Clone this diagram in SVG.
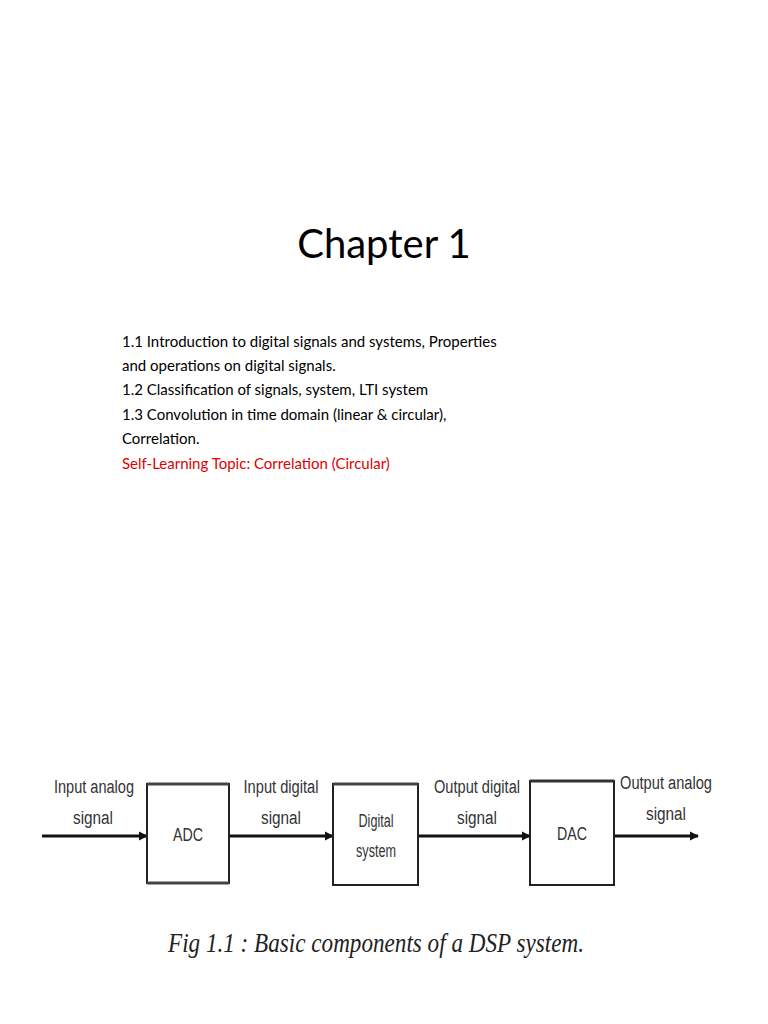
<svg xmlns="http://www.w3.org/2000/svg" width="768" height="1024" viewBox="0 0 768 1024">
<defs>
<style>
.t{font-family:Lato,"Liberation Sans",sans-serif;font-size:15px;fill:#000}
.l{font-family:"Liberation Sans",Arial,sans-serif;font-size:18px;fill:#333}
.box{fill:#fff;stroke:#222;stroke-width:2}
.c{stroke:#111;stroke-width:3;fill:none;marker-end:url(#a)}
</style>
<marker id="a" viewBox="0 0 10 10" refX="9" refY="5" markerWidth="3" markerHeight="3.5" orient="auto"><path d="M0,0 L10,5 L0,10 z" fill="#111"/></marker>
</defs>
<rect width="768" height="1024" fill="#fff"/>
<text x="384" y="258" text-anchor="middle" font-family="Lato,'Liberation Sans',sans-serif" font-size="40">Chapter 1</text>
<text class="t" x="122" y="347">1.1 Introduction to digital signals and systems, Properties</text>
<text class="t" x="122" y="371">and operations on digital signals.</text>
<text class="t" x="122" y="395">1.2 Classification of signals, system, LTI system</text>
<text class="t" x="122" y="420">1.3 Convolution in time domain (linear &amp; circular),</text>
<text class="t" x="122" y="444">Correlation.</text>
<text class="t" x="122" y="469" fill="#e00000" style="fill:#e00000">Self-Learning Topic: Correlation (Circular)</text>
<g id="connectors">
<line class="c" x1="42" y1="836" x2="147" y2="836"/>
<line class="c" x1="229" y1="836" x2="333" y2="836"/>
<line class="c" x1="418" y1="836" x2="530" y2="836"/>
<line class="c" x1="614" y1="836" x2="698" y2="836"/>
</g>
<g id="adc"><rect class="box" x="147" y="784" width="82" height="99"/><line x1="147" y1="784" x2="229" y2="784" stroke="#444" stroke-width="3"/><line x1="147" y1="883" x2="229" y2="883" stroke="#444" stroke-width="3"/><text class="l" x="188" y="841" text-anchor="middle" textLength="30" lengthAdjust="spacingAndGlyphs">ADC</text></g>
<g id="digital"><rect class="box" x="333" y="784" width="85" height="101"/><line x1="333" y1="784" x2="418" y2="784" stroke="#444" stroke-width="3"/><text class="l" x="376" y="827" text-anchor="middle" textLength="35" lengthAdjust="spacingAndGlyphs">Digital</text><text class="l" x="376" y="857" text-anchor="middle" textLength="40" lengthAdjust="spacingAndGlyphs">system</text></g>
<g id="dac"><rect class="box" x="530" y="781" width="84" height="104"/><line x1="530" y1="781" x2="614" y2="781" stroke="#333" stroke-width="3"/><text class="l" x="572" y="840" text-anchor="middle" textLength="30" lengthAdjust="spacingAndGlyphs">DAC</text></g>
<g id="labels">
<text class="l" x="94" y="793" text-anchor="middle" textLength="80" lengthAdjust="spacingAndGlyphs">Input analog</text>
<text class="l" x="93" y="824" text-anchor="middle" textLength="40" lengthAdjust="spacingAndGlyphs">signal</text>
<text class="l" x="281" y="793" text-anchor="middle" textLength="75" lengthAdjust="spacingAndGlyphs">Input digital</text>
<text class="l" x="281" y="824" text-anchor="middle" textLength="40" lengthAdjust="spacingAndGlyphs">signal</text>
<text class="l" x="477" y="793" text-anchor="middle" textLength="86" lengthAdjust="spacingAndGlyphs">Output digital</text>
<text class="l" x="477" y="824" text-anchor="middle" textLength="40" lengthAdjust="spacingAndGlyphs">signal</text>
<text class="l" x="666" y="789" text-anchor="middle" textLength="92" lengthAdjust="spacingAndGlyphs">Output analog</text>
<text class="l" x="666" y="820" text-anchor="middle" textLength="40" lengthAdjust="spacingAndGlyphs">signal</text>
</g>
<text x="376" y="952" text-anchor="middle" font-family="'Liberation Serif',serif" font-style="italic" font-size="28" fill="#222" textLength="416" lengthAdjust="spacingAndGlyphs">Fig 1.1 : Basic components of a DSP system.</text>
</svg>
